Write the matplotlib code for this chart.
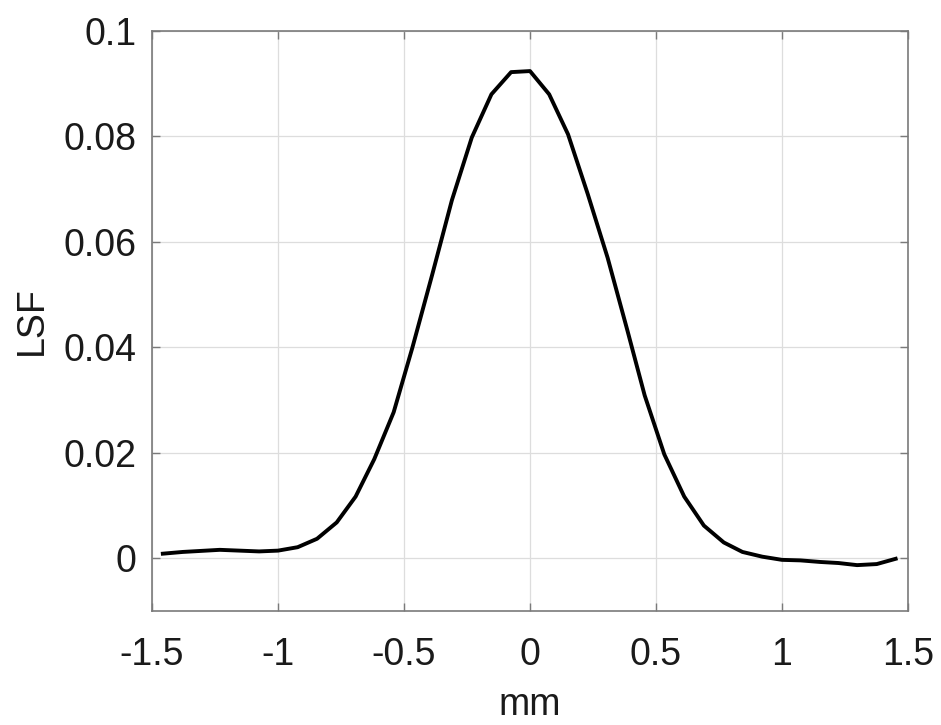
import matplotlib
matplotlib.use('Agg')
import matplotlib.pyplot as plt

# LSF profile
mm = [-1.457, -1.378, -1.231, -1.075, -1.000, -0.922, -0.845, -0.767, -0.692,
      -0.618, -0.541, -0.467, -0.388, -0.310, -0.231, -0.153, -0.075, 0.000,
      0.076, 0.151, 0.229, 0.308, 0.386, 0.455, 0.533, 0.612, 0.690, 0.769,
      0.843, 0.922, 1.000, 1.073, 1.151, 1.224, 1.298, 1.376, 1.451]
lsf = [0.00087, 0.0012, 0.0016, 0.0013, 0.00145, 0.0021, 0.0037, 0.0068, 0.0117,
       0.0188, 0.0277, 0.0399, 0.0538, 0.0679, 0.0798, 0.0880, 0.0922, 0.0924,
       0.0880, 0.0804, 0.0691, 0.0570, 0.0433, 0.0309, 0.0197, 0.0117, 0.0062,
       0.0030, 0.0012, 0.0003, -0.0003, -0.0004, -0.0007, -0.0009, -0.0013,
       -0.0011, -0.0001]

x_ticks = [-1.5, -1, -0.5, 0, 0.5, 1, 1.5]
x_labels = ['-1.5', '-1', '-0.5', '0', '0.5', '1', '1.5']
y_ticks = [0, 0.02, 0.04, 0.06, 0.08, 0.1]
y_labels = ['0', '0.02', '0.04', '0.06', '0.08', '0.1']

plt.rcParams['font.family'] = ['Liberation Sans', 'DejaVu Sans']

fig = plt.figure(figsize=(9.41, 7.25), dpi=100)
ax = fig.add_axes([152 / 941, 1 - 611 / 725, (908 - 152) / 941, (611 - 31) / 725])

ax.plot(mm, lsf, color='black', linewidth=2.8)

ax.set_xlim(-1.5, 1.5)
ax.set_ylim(-0.01, 0.1)
ax.set_xticks(x_ticks)
ax.set_xticklabels(x_labels)
ax.set_yticks(y_ticks)
ax.set_yticklabels(y_labels)

ax.grid(True, color='#dddddd', linewidth=0.9)
ax.tick_params(direction='in', length=6, width=1, colors='#7a7a7a',
               labelcolor='#1a1a1a', labelsize=27, top=True, right=True)
ax.tick_params(axis='y', pad=11)
ax.tick_params(axis='x', pad=19)
for sp in ax.spines.values():
    sp.set_color('#7a7a7a')
    sp.set_linewidth(1.2)

ax.set_xlabel('mm', fontsize=27, color='#1a1a1a', labelpad=10)
ax.set_ylabel('LSF', fontsize=27, color='#1a1a1a', labelpad=10)

fig.savefig('out.png', dpi=100)
